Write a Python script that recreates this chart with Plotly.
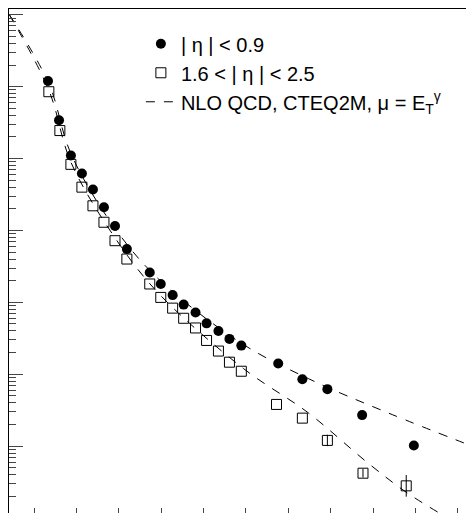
import plotly.graph_objects as go

cx = [13.3,15.9,18.7,21.3,23.9,26.5,29.1,31.9,37.3,39.9,42.7,45.3,48.1,50.7,53.5,56.1,58.9,67.6,73.3,79.2,87.4,99.6]
cy = [1.2e6,3.4e5,1.1e5,6.2e4,3.7e4,2.1e4,1.15e4,5.5e3,2.6e3,1.8e3,1.26e3,930,720,510,400,310,250,141,85,62,27,10.2]
sx = [13.5,16.1,18.7,21.3,23.9,26.5,29.1,31.9,37.3,39.9,42.7,45.3,48.1,50.7,53.5,56.1,58.9,67.2,73.3,79.2,87.6,97.8]
sy = [8.5e5,2.45e5,8.3e4,4.0e4,2.2e4,1.3e4,7.2e3,4.0e3,1.8e3,1.17e3,830,600,440,295,210,147,110,38,24.5,12,4.2,2.8]
s_err_up = [0]*19 + [2.4,0.63,1.16]
s_err_dn = [0]*19 + [2.0,0.54,0.82]
u_x = [4.1,13.5,18.7,29.1,39.4,58.9,74.7,93.5,114.7]
u_y = [1.02e7,1.1e6,1.17e5,1.07e4,2.1e3,270,87,29,9.3]
l_x = [4.1,13.5,18.7,29.1,39.4,59.4,74.7,88.8,98.2,107.6]
l_y = [1.02e7,8.9e5,8.9e4,7.9e3,1.33e3,120,29,5.8,2.2,1.0]

fig = go.Figure()
fig.add_trace(go.Scatter(x=cx, y=cy, mode="markers", name="| η | < 0.9",
    marker=dict(symbol="circle", size=10, color="black")))
fig.add_trace(go.Scatter(x=sx, y=sy, mode="markers", name="1.6 < | η | < 2.5",
    marker=dict(symbol="square-open", size=10, color="black", line=dict(width=1)),
    error_y=dict(type="data", array=s_err_up, arrayminus=s_err_dn, color="black", thickness=1, width=0)))
fig.add_trace(go.Scatter(x=u_x, y=u_y, mode="lines", name="NLO QCD, CTEQ2M, μ = E<sub>T</sub><sup>γ</sup>",
    line=dict(color="black", dash="dash", width=1, shape="spline")))
fig.add_trace(go.Scatter(x=l_x, y=l_y, mode="lines", showlegend=False,
    line=dict(color="black", dash="dash", width=1, shape="spline")))

fig.update_layout(width=474, height=513, margin=dict(l=1, r=2, t=1, b=3, pad=0, autoexpand=False),
    plot_bgcolor="white", paper_bgcolor="white",
    font=dict(family="Liberation Sans, Arial", size=20, color="black"),
    legend=dict(x=0.28, y=0.97, xanchor="left", yanchor="top", bgcolor="rgba(0,0,0,0)", tracegroupgap=8))
fig.update_xaxes(range=[4.1, 115.2], showgrid=False, zeroline=False, showline=True, linecolor="black",
    linewidth=1.5, mirror=True, ticks="inside", ticklen=10, tick0=10, dtick=10, showticklabels=False)
fig.update_yaxes(type="log", range=[0, 7.08], showgrid=False, showline=True, linecolor="black",
    linewidth=1.5, mirror=True, ticks="inside", ticklen=14, dtick=1, showticklabels=False,
    minor=dict(ticks="inside", ticklen=7, dtick="D1"))
fig.write_html("out.html")
